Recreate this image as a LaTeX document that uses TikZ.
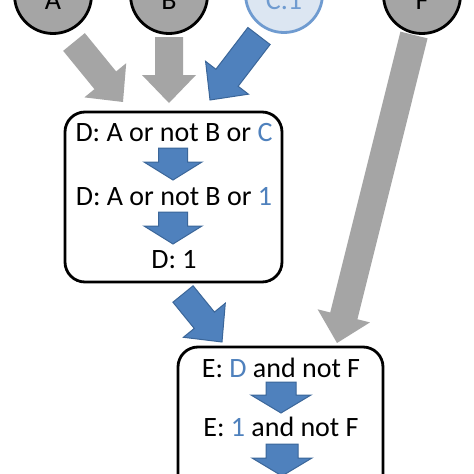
\documentclass[tikz,border=0pt]{standalone}
\usepackage{fontspec}
\setmainfont{Carlito}
\usetikzlibrary{calc}
\definecolor{grayA}{HTML}{A5A5A5}
\definecolor{blueA}{HTML}{4F81BD}
\definecolor{blueB}{HTML}{3B6699}
\definecolor{blueL}{HTML}{DCE6F2}
\definecolor{blueLB}{HTML}{6F9BD0}
\newcommand\blockarrow[6]{%
  \path[#1] let \p1=(#2), \p2=(#3), \n1={atan2(\y2-\y1,\x2-\x1)}, \n2={veclen(\x2-\x1,\y2-\y1)} in
   [shift={(\p1)}, rotate=\n1]
   (0pt,{-#4*1pt}) -- ({(\n2-#6)*1pt},{-#4*1pt}) -- ({(\n2-#6)*1pt},{-#5*1pt}) -- ({\n2*1pt},0pt)
   -- ({(\n2-#6)*1pt},{#5*1pt}) -- ({(\n2-#6)*1pt},{#4*1pt}) -- (0pt,{#4*1pt}) -- cycle;
}
\tikzset{
  gcirc/.style={circle, draw=black, line width=2.8pt, fill=grayA, minimum size=77pt, inner sep=0pt},
  bcirc/.style={circle, draw=blueLB, line width=2.8pt, fill=blueL, minimum size=77pt, inner sep=0pt},
  box/.style={draw=black, line width=2.8pt, rounded corners=20pt, fill=white, inner sep=0pt},
  txt/.style={anchor=base, inner sep=0pt, font=\fontsize{28}{32}\selectfont},
  garrow/.style={fill=grayA},
  barrow/.style={fill=blueA, draw=blueB, line width=1pt, line join=miter},
}
\begin{document}
\begin{tikzpicture}[x=1pt,y=-1pt]
\useasboundingbox (0,0) rectangle (474,474);
\clip (0,0) rectangle (474,474);
\fill[white] (0,0) rectangle (474,474);
% circles
\node[gcirc] (A) at (53,-5) {};
\node[gcirc] (B) at (169,-5) {};
\node[bcirc] (C) at (284,-6) {};
\node[gcirc] (F) at (422,-5) {};
\node[txt] (Al) at (53,9) {A};
\node[txt] (Bl) at (169,9) {B};
\node[txt, text=blueLB] (Cl) at (284,9) {C.1};
\node[txt] (Fl) at (422,9) {F};
% boxes
\node[box, minimum width=217pt, minimum height=170pt] (D) at (173.5,197) {};
\node[box, minimum width=205pt, minimum height=200pt] (E) at (280.5,447) {};
% texts
\node[txt] (d1) at (174,141) {D: A or not B or \textcolor{blueA}{C}};
\node[txt] (d2) at (174,205) {D: A or not B or \textcolor{blueA}{1}};
\node[txt] (d3) at (174,268) {D: 1};
\node[txt] (e1) at (281,377) {E: \textcolor{blueA}{D} and not F};
\node[txt] (e2) at (281,436) {E: \textcolor{blueA}{1} and not F};
% arrow end points
\coordinate (aS) at (74,42);   \coordinate (aT) at (123,102);
\coordinate (bS) at (169,37);  \coordinate (bT) at (169,103);
\coordinate (cS) at (259,36);  \coordinate (cT) at (210,100);
\coordinate (fS) at (414,35);  \coordinate (fT) at (337,343);
\coordinate (deS) at (183,294); \coordinate (deT) at (222,342);
\coordinate (d1S) at (173,148); \coordinate (d1T) at (173,180);
\coordinate (d2S) at (173,212); \coordinate (d2T) at (173,244);
\coordinate (e1S) at (281,382); \coordinate (e1T) at (281,413);
\coordinate (e2S) at (282,444); \coordinate (e2T) at (282,476);
% big arrows
\blockarrow{garrow}{aS}{aT}{14}{27}{28}
\blockarrow{garrow}{bS}{bT}{14}{27}{28}
\blockarrow{barrow}{cS}{cT}{14}{27}{28}
\blockarrow{garrow}{fS}{fT}{14}{27}{28}
\blockarrow{barrow}{deS}{deT}{13}{27}{28}
% small arrows
\blockarrow{barrow}{d1S}{d1T}{14.5}{29}{18}
\blockarrow{barrow}{d2S}{d2T}{14.5}{29}{18}
\blockarrow{barrow}{e1S}{e1T}{15}{30}{18}
\blockarrow{barrow}{e2S}{e2T}{16}{30}{18}
\end{tikzpicture}
\end{document}
